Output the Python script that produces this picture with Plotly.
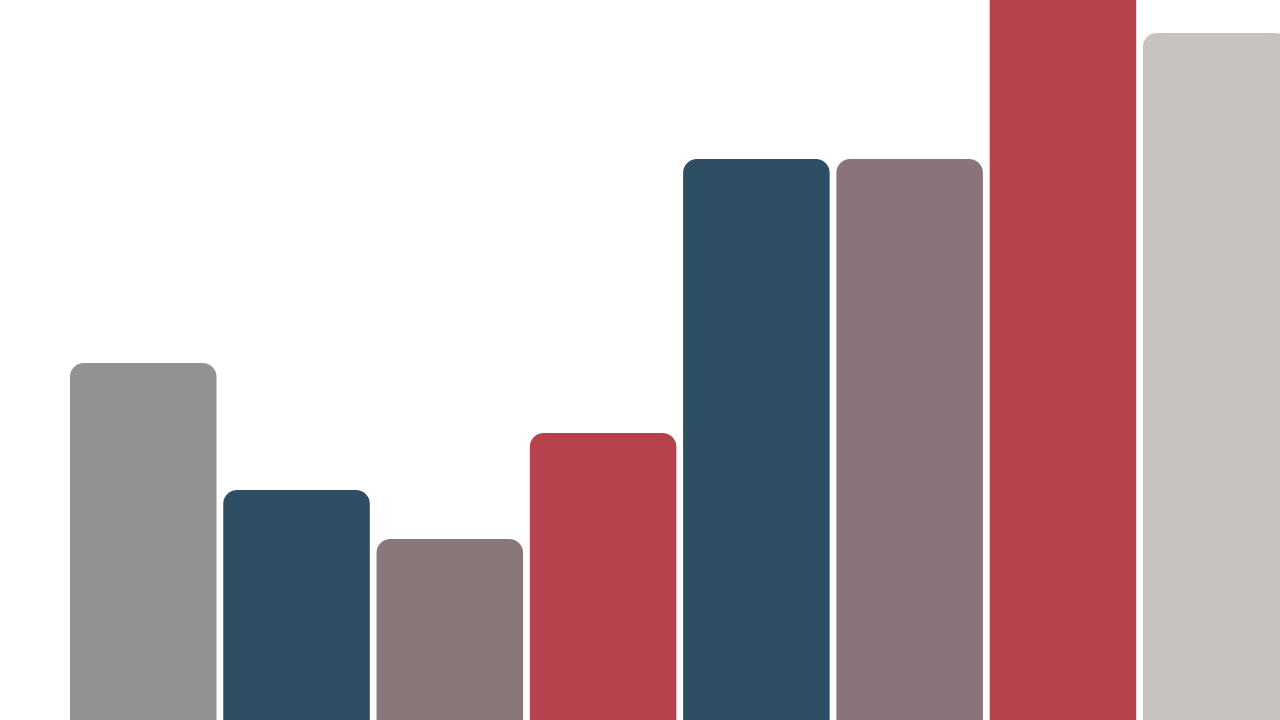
import plotly.graph_objects as go

categories = ["A", "B", "C", "D", "E", "F", "G", "H"]
values = [357, 230, 181, 287, 561, 561, 760, 687]
colors = ["#949291", "#2e4e64", "#8a7779", "#b5424c", "#2e4e64", "#8a7479", "#b5424c", "#c8c3c1"]

fig = go.Figure(go.Bar(
    x=list(range(len(categories))),
    y=values,
    marker=dict(color=colors, cornerradius=14, line=dict(width=0)),
    width=0.956,
    hoverinfo="skip",
))
fig.update_layout(
    width=1280, height=720,
    margin=dict(l=0, r=0, t=0, b=0),
    paper_bgcolor="white", plot_bgcolor="white",
    showlegend=False,
    xaxis=dict(range=[-0.9345, 7.416], visible=False),
    yaxis=dict(range=[0, 720], visible=False),
)
fig.write_html(
    "out.html",
    config={"displayModeBar": False},
    post_script="document.body.style.margin='0';document.body.style.overflow='hidden';",
)
